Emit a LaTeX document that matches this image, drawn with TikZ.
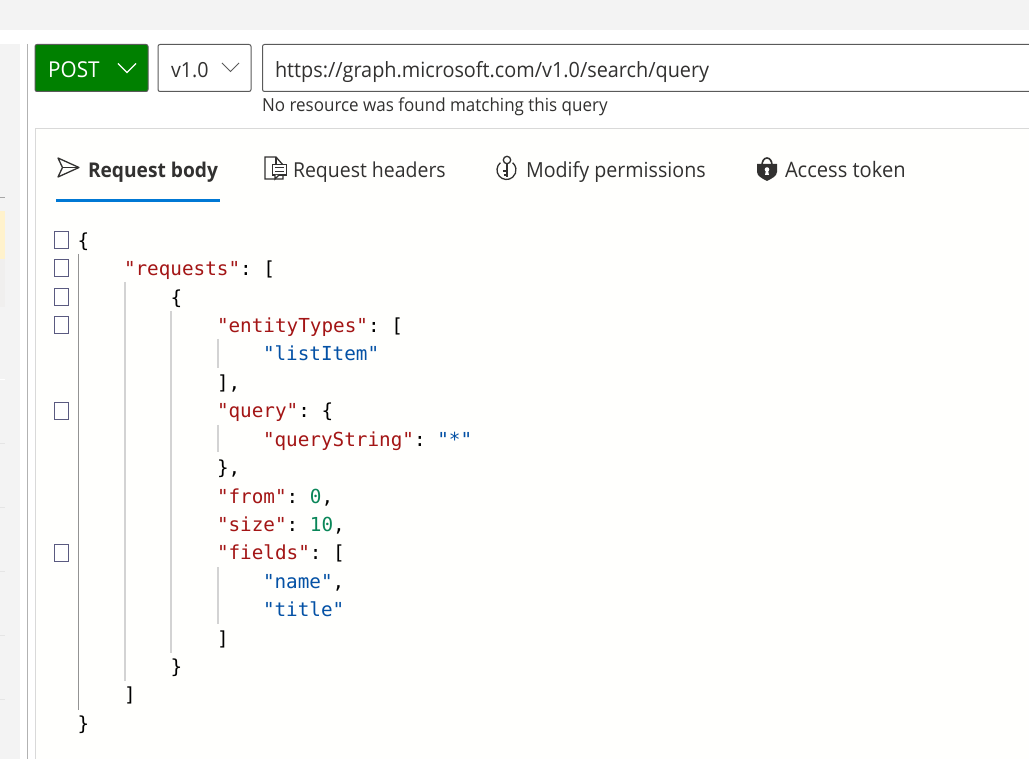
\documentclass[tikz,border=0pt]{standalone}
\usepackage{fontspec}
\setmainfont{Open Sans}[FakeStretch=0.945]
\newfontfamily\codefont{DejaVu Sans Mono}
\definecolor{panelbar}{HTML}{F3F3F3}
\definecolor{panelfill}{HTML}{FFFFFD}
\definecolor{frameline}{HTML}{5A5A5A}
\definecolor{uitext}{HTML}{323130}
\definecolor{postgreen}{HTML}{008000}
\definecolor{tabblue}{HTML}{0078D4}
\definecolor{keyred}{HTML}{A31515}
\definecolor{valblue}{HTML}{0451A5}
\definecolor{numgreen}{HTML}{098658}
\definecolor{foldbox}{HTML}{5A5A80}
\definecolor{guidelight}{HTML}{D3D3D3}
\definecolor{guidedark}{HTML}{939393}
\definecolor{sideyellow}{HTML}{FFF2CC}
\definecolor{sidegrey}{HTML}{F0EFEE}
\tikzset{
  x=1pt,y=-1pt,
  uilabel/.style={anchor=base west,inner sep=0pt,outer sep=0pt,text=uitext},
  codeline/.style={anchor=base west,inner sep=0pt,outer sep=0pt,font=\codefont\frenchspacing\fontsize{19.3}{24}\selectfont},
  inputbox/.style={draw=frameline,line width=1pt,fill=white,rounded corners=2pt,outer sep=0pt,inner sep=0pt,anchor=north west},
  foldmark/.style={draw=foldbox,line width=1pt,fill=white,outer sep=0pt,inner sep=0pt,anchor=north west,minimum width=14pt,minimum height=17pt},
  guideline/.style={draw=guidelight,line width=1.5pt},
  sidetick/.style={draw=black!10,line width=1pt},
  chev/.style={line width=1.2pt,line join=miter},
  iconline/.style={draw=uitext,line width=1.3pt},
}
\newcommand{\K}[1]{\textcolor{keyred}{#1}}
\newcommand{\V}[1]{\textcolor{valblue}{#1}}
\newcommand{\N}[1]{\textcolor{numgreen}{#1}}
\newcommand{\fs}[1]{\fontsize{#1}{24}\selectfont}
\begin{document}
\begin{tikzpicture}
\useasboundingbox (0,0) rectangle (1029,759);
\fill[white] (0,0) rectangle (1029,759);
% top bar and side panel
\fill[panelbar] (0,0) rectangle (1029,30);
\fill[panelbar] (0,44) rectangle (20,759);
\draw[draw=gray!70,line width=1pt] (0,197.5) -- (5,197.5);
\fill[sideyellow] (0,211) rectangle (5,259);
\fill[sidegrey] (0,259) rectangle (5,307);
\draw[white,line width=1pt] (0,379.5) -- (5,379.5);
\foreach \yy in {443.5,507.5,571.5,635.5,699.5}{\draw[sidetick] (0,\yy) -- (5,\yy);}
\draw[draw=black!30,line width=1.5pt] (27.5,44) -- (27.5,759);
% panel
\fill[panelfill] (35.5,128.5) rectangle (1029,759);
\draw[draw=black!15,line width=1.2pt] (35.5,759) -- (35.5,128.5) -- (1029,128.5);
% top controls
\node[inputbox,fill=postgreen,minimum width=113pt,minimum height=47pt] (postbtn) at (35,44.5) {};
\node[anchor=base west,inner sep=0pt,text=white,font=\fs{21.9}] (posttext) at (48,77.7) {POST};
\draw[white,chev] (118,63.5) -- (127,72.5) -- (136,63.5);
\node[inputbox,minimum width=93pt,minimum height=47pt] (verbox) at (158,44.5) {};
\node[uilabel,font=\fs{20.8}] (vertext) at (171,77.7) {v1.0};
\draw[frameline,chev,line width=1pt] (222,63) -- (230.5,71.5) -- (239,63);
\draw[frameline,line width=1pt,rounded corners=2pt] (1040,44.5) -- (262.5,44.5) -- (262.5,91.5) -- (1040,91.5);
\node[uilabel,font=\fs{21}] (urltext) at (275,77.7) {https://graph.microsoft.com/v1.0/search/query};
\node[uilabel,font=\fs{18}] (errtext) at (262,111.5) {No resource was found matching this query};
% tabs
\draw[iconline,line join=round] (58,158) -- (79,167.5) -- (58,177) -- (62.5,167.5) -- cycle;
\draw[iconline] (62.5,167.5) -- (79,167.5);
\node[uilabel,font=\fs{20.3}\bfseries] (tabbody) at (88,177.5) {Request body};
\fill[tabblue] (56,199) rectangle (220,202);
% request headers icon
\draw[iconline] (283,165) -- (283,179) -- (265,179) -- (265,157) -- (276,157) -- (283,165);
\draw[iconline] (276,157) -- (276,165) -- (283,165);
\draw[iconline,fill=white] (272.5,164.5) rectangle (286.5,175);
\draw[iconline,fill=white] (275,175) -- (275,179) -- (279,175);
\draw[uitext,line width=1pt] (275,168) -- (284,168) (275,171.5) -- (284,171.5);
\node[uilabel,font=\fs{20.6}] (tabheaders) at (293,177.5) {Request headers};
% permissions icon
\draw[iconline] (500.4,162.7) arc[start angle=130,end angle=410,radius=9.5pt];
\draw[iconline] (507,160) circle[radius=3.7pt];
\draw[iconline] (507,164) -- (507,177) (503,171) -- (507,171) (503.5,175) -- (507,175);
\node[uilabel,font=\fs{20.8}] (tabperm) at (526,177.5) {Modify permissions};
% access token icon
\draw[uitext,line width=1.6pt] (762,165) arc[start angle=180,end angle=0,x radius=5pt,y radius=7pt];
\fill[uitext] (757,164) -- (777,164) -- (777,172) .. controls (777,176) and (771,179) .. (767,181) .. controls (763,179) and (757,176) .. (757,172) -- cycle;
\fill[white] (767,169.5) circle[radius=2.3pt];
\fill[white] (765,175) -- (769,175) -- (767.8,169.5) -- (766.2,169.5) -- cycle;
\node[uilabel,font=\fs{21.3}] (tabtoken) at (785,177.5) {Access token};
% fold markers
\foreach \nm/\yy in {fa/231.5,fb/259.5,fc/288.5,fd/316.5,fe/402.5,ff/544.5}{
  \node[foldmark] (\nm) at (54,\yy) {};
}
% indent guides
\draw[draw=guidedark,line width=1.5pt] (78.5,254) -- (78.5,710);
\draw[guideline] (125,282) -- (125,681);
\draw[guideline] (171,311) -- (171,653);
\draw[guideline] (217.8,339) -- (217.8,368);
\draw[guideline] (217.8,425) -- (217.8,452);
\draw[guideline] (217.8,567) -- (217.8,624);
% code
\node[codeline] (l01) at (77.5,248)  {\{};
\node[codeline] (l02) at (124,276) {\K{"requests"}: [};
\node[codeline] (l03) at (170.5,304.5) {\{};
\node[codeline] (l04) at (217,332.8) {\K{"entityTypes"}: [};
\node[codeline] (l05) at (263,361) {\V{"listItem"}};
\node[codeline] (l06) at (217,389.5) {],};
\node[codeline] (l07) at (217,417.8) {\K{"query"}: \{};
\node[codeline] (l08) at (263,446.3) {\K{"queryString"}: \V{"*"}};
\node[codeline] (l09) at (217,474.5) {\},};
\node[codeline] (l10) at (217,503) {\K{"from"}: \N{0},};
\node[codeline] (l11) at (217,531.3) {\K{"size"}: \N{10},};
\node[codeline] (l12) at (217,559.8) {\K{"fields"}: [};
\node[codeline] (l13) at (263,588) {\V{"name"},};
\node[codeline] (l14) at (263,616.5) {\V{"title"}};
\node[codeline] (l15) at (217,645) {]};
\node[codeline] (l16) at (170.5,673.3) {\}};
\node[codeline] (l17) at (124,701.8) {]};
\node[codeline] (l18) at (77.5,730.2)  {\}};
\end{tikzpicture}
\end{document}
